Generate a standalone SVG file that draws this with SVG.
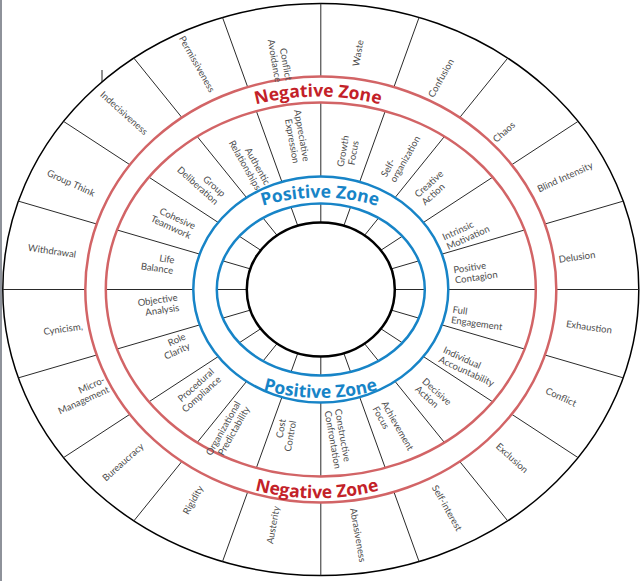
<svg xmlns="http://www.w3.org/2000/svg" width="641" height="581" viewBox="0 0 641 581">
<defs>
<style>
.lbl{font-family:Lato,"Open Sans","Liberation Sans",sans-serif;font-size:9.5px;fill:#4d4d4d;text-anchor:middle}
.lbl.e{text-anchor:end}
.lbl.s{text-anchor:start}
.ray{stroke:#2a2a2a;stroke-width:1}
.red{fill:none;stroke:#d26466;stroke-width:2.5}
.blue{fill:none;stroke:#1784c7;stroke-width:2.5}
.band{fill:#fff;fill-rule:evenodd;stroke:none}
.negt{font-family:"Open Sans","Liberation Sans",sans-serif;font-weight:bold;font-size:17.5px;fill:#c32128}
.post{font-family:"Open Sans","Liberation Sans",sans-serif;font-weight:bold;font-size:17.5px;fill:#1784c7}
</style>
<path id="pNegTop" d="M 188 133 A 250 250 0 0 1 448 133"/>
<path id="pNegBot" d="M 187 461.8 A 250 250 0 0 0 447 461.8"/>
<path id="pPosTop" d="M 200 237.5 A 200 200 0 0 1 440 237.5"/>
<path id="pPosBot" d="M 200.5 360.3 A 210 210 0 0 0 440.5 360.3"/>
</defs>
<rect width="641" height="581" fill="#fff"/>
<rect x="0" y="0" width="2" height="581" fill="#8e929a"/>
<line x1="102" y1="70" x2="102" y2="87" stroke="#222" stroke-width="1"/>

<g id="wheel">
<ellipse cx="320.8" cy="289.5" rx="318" ry="286" fill="#fff" stroke="#000" stroke-width="1.5"/>
<g id="connectors" class="ray">
<line x1="320.8" y1="289.5" x2="320.8" y2="3.5"/>
<line x1="320.8" y1="289.5" x2="419.06" y2="17.49"/>
<line x1="320.8" y1="289.5" x2="507.72" y2="58.13"/>
<line x1="320.8" y1="289.5" x2="578.06" y2="121.39"/>
<line x1="320.8" y1="289.5" x2="623.25" y2="201.13"/>
<line x1="320.8" y1="289.5" x2="638.8" y2="289.5"/>
<line x1="320.8" y1="289.5" x2="623.25" y2="377.87"/>
<line x1="320.8" y1="289.5" x2="578.06" y2="457.61"/>
<line x1="320.8" y1="289.5" x2="507.72" y2="520.87"/>
<line x1="320.8" y1="289.5" x2="419.06" y2="561.51"/>
<line x1="320.8" y1="289.5" x2="320.8" y2="575.5"/>
<line x1="320.8" y1="289.5" x2="222.54" y2="561.51"/>
<line x1="320.8" y1="289.5" x2="133.88" y2="520.87"/>
<line x1="320.8" y1="289.5" x2="63.54" y2="457.61"/>
<line x1="320.8" y1="289.5" x2="18.35" y2="377.87"/>
<line x1="320.8" y1="289.5" x2="2.8" y2="289.5"/>
<line x1="320.8" y1="289.5" x2="18.35" y2="201.13"/>
<line x1="320.8" y1="289.5" x2="63.54" y2="121.39"/>
<line x1="320.8" y1="289.5" x2="133.88" y2="58.13"/>
<line x1="320.8" y1="289.5" x2="222.54" y2="17.49"/>
</g>
<path class="band" d="M 85.3 289.5 A 235.5 213 0 1 0 556.3 289.5 A 235.5 213 0 1 0 85.3 289.5 Z M 105.8 289.5 A 215 187 0 1 0 535.8 289.5 A 215 187 0 1 0 105.8 289.5 Z"/>
<path class="band" d="M 193.3 289.5 A 127.5 113 0 1 0 448.3 289.5 A 127.5 113 0 1 0 193.3 289.5 Z M 216.8 289.5 A 104 86 0 1 0 424.8 289.5 A 104 86 0 1 0 216.8 289.5 Z"/>
<ellipse class="red" cx="320.8" cy="289.5" rx="235.5" ry="213"/>
<ellipse class="red" cx="320.8" cy="289.5" rx="215" ry="187"/>
<ellipse class="blue" cx="320.8" cy="289.5" rx="127.5" ry="113"/>
<ellipse class="blue" cx="320.8" cy="289.5" rx="104" ry="86"/>
<ellipse id="core" cx="320.8" cy="289.5" rx="74" ry="67" fill="#fff" stroke="#000" stroke-width="2.5"/>
</g>

<g id="zones">
<text class="negt"><textPath href="#pNegTop" startOffset="50%" text-anchor="middle">Negative Zone</textPath></text>
<text class="negt"><textPath href="#pNegBot" startOffset="50%" text-anchor="middle">Negative Zone</textPath></text>
<text class="post"><textPath href="#pPosTop" startOffset="50%" text-anchor="middle">Positive Zone</textPath></text>
<text class="post"><textPath href="#pPosBot" startOffset="50%" text-anchor="middle">Positive Zone</textPath></text>
</g>

<g id="negative-labels">
<g id="n-conflict-avoidance"><text class="lbl e" transform="translate(280,60) rotate(80)"><tspan x="21.5" y="-1.8">Conflict</tspan><tspan x="21.5" y="8.7">Avoidance</tspan></text></g>
<g id="n-permissiveness"><text class="lbl" transform="translate(197,64) rotate(60.5)" y="3.3">Permissiveness</text></g>
<g id="n-indecisiveness"><text class="lbl" transform="translate(124,113) rotate(42)" y="3.3">Indecisiveness</text></g>
<g id="n-group-think"><text class="lbl" transform="translate(71,183) rotate(24.6)" y="3.3">Group Think</text></g>
<g id="n-withdrawal"><text class="lbl" transform="translate(52,251) rotate(8.1)" y="3.3">Withdrawal</text></g>
<g id="n-cynicism"><text class="lbl" transform="translate(63,329) rotate(-8.1)" y="3.3">Cynicism,</text></g>
<g id="n-micro-management"><text class="lbl e" transform="translate(82,395) rotate(-24.6)"><tspan x="26.7" y="-1.8">Micro-</tspan><tspan x="26.7" y="8.7">Management</tspan></text></g>
<g id="n-bureaucracy"><text class="lbl" transform="translate(123,462) rotate(-42)" y="3.3">Bureaucracy</text></g>
<g id="n-rigidity"><text class="lbl" transform="translate(193,500) rotate(-60.5)" y="3.3">Rigidity</text></g>
<g id="n-austerity"><text class="lbl" transform="translate(273,525) rotate(-80)" y="3.3">Austerity</text></g>
<g id="n-abrasiveness"><text class="lbl" transform="translate(358,535) rotate(80)" y="3.3">Abrasiveness</text></g>
<g id="n-self-interest"><text class="lbl" transform="translate(447,508) rotate(60.5)" y="3.3">Self-interest</text></g>
<g id="n-exclusion"><text class="lbl" transform="translate(512,458) rotate(42)" y="3.3">Exclusion</text></g>
<g id="n-conflict"><text class="lbl" transform="translate(561,397) rotate(24.6)" y="3.3">Conflict</text></g>
<g id="n-exhaustion"><text class="lbl" transform="translate(589,327) rotate(8.1)" y="3.3">Exhaustion</text></g>
<g id="n-delusion"><text class="lbl" transform="translate(577,257) rotate(-8.1)" y="3.3">Delusion</text></g>
<g id="n-blind-intensity"><text class="lbl" transform="translate(565,177) rotate(-24.6)" y="3.3">Blind Intensity</text></g>
<g id="n-chaos"><text class="lbl" transform="translate(504,132) rotate(-42)" y="3.3">Chaos</text></g>
<g id="n-confusion"><text class="lbl" transform="translate(441,78) rotate(-60.5)" y="3.3">Confusion</text></g>
<g id="n-waste"><text class="lbl" transform="translate(358,53) rotate(-80)" y="3.3">Waste</text></g>
</g>

<g id="positive-labels">
<g id="p-appreciative-expression"><text class="lbl e" transform="translate(297,137) rotate(80)"><tspan x="25.7" y="-1.8">Appreciative</tspan><tspan x="25.7" y="8.7">Expression</tspan></text></g>
<g id="p-authentic-relationships"><text class="lbl e" transform="translate(250,163) rotate(60.5)"><tspan x="27" y="-1.8">Authentic</tspan><tspan x="27" y="8.7">Relationships</tspan></text></g>
<g id="p-group-deliberation"><text class="lbl e" transform="translate(202,182) rotate(42)"><tspan x="25" y="-1.8">Group</tspan><tspan x="25" y="8.7">Deliberation</tspan></text></g>
<g id="p-cohesive-teamwork"><text class="lbl e" transform="translate(173,222) rotate(24.6)"><tspan x="21.7" y="-1.8">Cohesive</tspan><tspan x="21.7" y="8.7">Teamwork</tspan></text></g>
<g id="p-life-balance"><text class="lbl e" transform="translate(158,263) rotate(8.1)"><tspan x="16" y="-1.8">Life</tspan><tspan x="16" y="8.7">Balance</tspan></text></g>
<g id="p-objective-analysis"><text class="lbl e" transform="translate(159,305) rotate(-8.1)"><tspan x="19.5" y="-1.8">Objective</tspan><tspan x="19.5" y="8.7">Analysis</tspan></text></g>
<g id="p-role-clarity"><text class="lbl e" transform="translate(175,346) rotate(-24.6)"><tspan x="13.4" y="-1.8">Role</tspan><tspan x="13.4" y="8.7">Clarity</tspan></text></g>
<g id="p-procedural-compliance"><text class="lbl e" transform="translate(198,390) rotate(-42)"><tspan x="24" y="-1.8">Procedural</tspan><tspan x="24" y="8.7">Compliance</tspan></text></g>
<g id="p-organizational-predictability"><text class="lbl e" transform="translate(228,430) rotate(-60.5)"><tspan x="29.5" y="-1.8">Organizational</tspan><tspan x="29.5" y="8.7">Predictability</tspan></text></g>
<g id="p-cost-control"><text class="lbl e" transform="translate(285,435) rotate(-80)"><tspan x="15.4" y="-1.8">Cost</tspan><tspan x="15.4" y="8.7">Control</tspan></text></g>
<g id="p-constructive-confrontation"><text class="lbl s" transform="translate(338,438) rotate(80)"><tspan x="-28.5" y="-1.8">Constructive</tspan><tspan x="-28.5" y="8.7">Confrontation</tspan></text></g>
<g id="p-achievement-focus"><text class="lbl s" transform="translate(393,428) rotate(60.5)"><tspan x="-27" y="-1.8">Achievement</tspan><tspan x="-27" y="8.7">Focus</tspan></text></g>
<g id="p-decisive-action"><text class="lbl s" transform="translate(433,395) rotate(42)"><tspan x="-17" y="-1.8">Decisive</tspan><tspan x="-17" y="8.7">Action</tspan></text></g>
<g id="p-individual-accountability"><text class="lbl s" transform="translate(468,366) rotate(24.6)"><tspan x="-29" y="-1.8">Individual</tspan><tspan x="-29" y="8.7">Accountability</tspan></text></g>
<g id="p-full-engagement"><text class="lbl s" transform="translate(477,318) rotate(8.1)"><tspan x="-25.3" y="-1.8">Full</tspan><tspan x="-25.3" y="8.7">Engagement</tspan></text></g>
<g id="p-positive-contagion"><text class="lbl s" transform="translate(475,272) rotate(-8.1)"><tspan x="-21" y="-1.8">Positive</tspan><tspan x="-21" y="8.7">Contagion</tspan></text></g>
<g id="p-intrinsic-motivation"><text class="lbl s" transform="translate(465,233) rotate(-24.6)"><tspan x="-22" y="-1.8">Intrinsic</tspan><tspan x="-22" y="8.7">Motivation</tspan></text></g>
<g id="p-creative-action"><text class="lbl s" transform="translate(432,188) rotate(-42)"><tspan x="-17" y="-1.8">Creative</tspan><tspan x="-17" y="8.7">Action</tspan></text></g>
<g id="p-self-organization"><text class="lbl s" transform="translate(400,157) rotate(-60.5)"><tspan x="-25" y="-1.8">Self-</tspan><tspan x="-25" y="8.7">organization</tspan></text></g>
<g id="p-growth-focus"><text class="lbl" transform="translate(348,152) rotate(-80)"><tspan x="0" y="-1.8">Growth</tspan><tspan x="0" y="8.7">Focus</tspan></text></g>
</g>
</svg>
